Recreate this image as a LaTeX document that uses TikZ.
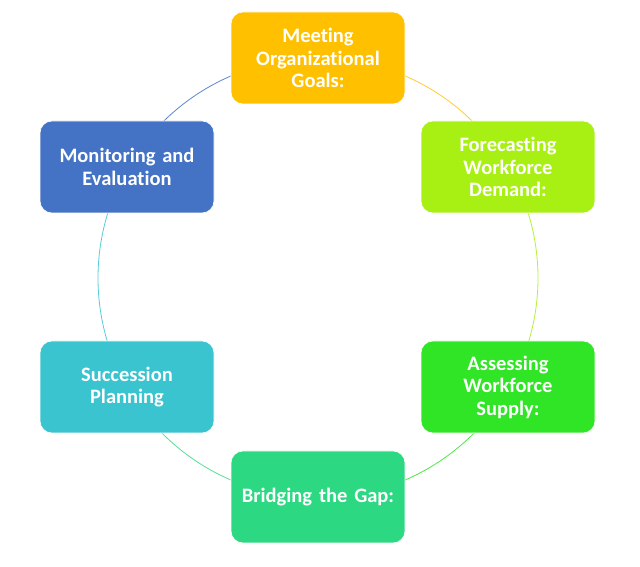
\documentclass[tikz,border=0pt]{standalone}
\usepackage{fontspec}
\setmainfont{Carlito}[Ligatures={NoCommon}]
\definecolor{cTop}{HTML}{FFC000}
\definecolor{cUR}{HTML}{A8F014}
\definecolor{cLR}{HTML}{30E526}
\definecolor{cBot}{HTML}{2CD882}
\definecolor{cLL}{HTML}{3AC4CF}
\definecolor{cUL}{HTML}{4472C4}
\begin{document}
\begin{tikzpicture}[x=1pt,y=1pt,
  stepbox/.style={draw=white, line width=0.6pt, rounded corners=12pt,
    minimum width=174pt, minimum height=92pt, inner sep=4pt,
    text width=166pt, align=center, text=white,
    font=\fontsize{20.5}{22.5}\selectfont\bfseries},
  ring/.style={line width=0.8pt}]
\useasboundingbox (0,0) rectangle (640,567);
\fill[white] (0,0) rectangle (640,567);
\coordinate (c) at (318,289);
% arcs
\draw[ring, cTop!80] (c) ++(90:220) arc[start angle=90, end angle=30, radius=220];
\draw[ring, cUR!85] (c) ++(30:220) arc[start angle=30, end angle=-30, radius=220];
\draw[ring, cLR!85] (c) ++(-30:220) arc[start angle=-30, end angle=-90, radius=220];
\draw[ring, cBot!80] (c) ++(-90:220) arc[start angle=-90, end angle=-150, radius=220];
\draw[ring, cLL!85] (c) ++(210:220) arc[start angle=210, end angle=150, radius=220];
\draw[ring, cUL!85] (c) ++(150:220) arc[start angle=150, end angle=90, radius=220];
% boxes
\node[stepbox, fill=cTop] (top) at (318,509) {Meeting\\Organizational\\Goals:};
\node[stepbox, fill=cUR] (ur) at (508,400) {Forecasting\\Workforce\\Demand:};
\node[stepbox, fill=cLR] (lr) at (508,180) {Assessing\\Workforce\\Supply:};
\node[stepbox, fill=cBot] (bot) at (318,70) {Bridging the Gap:};
\node[stepbox, fill=cLL] (ll) at (127,180) {Succession\\Planning};
\node[stepbox, fill=cUL] (ul) at (127,400) {Monitoring and\\Evaluation};
\end{tikzpicture}
\end{document}
